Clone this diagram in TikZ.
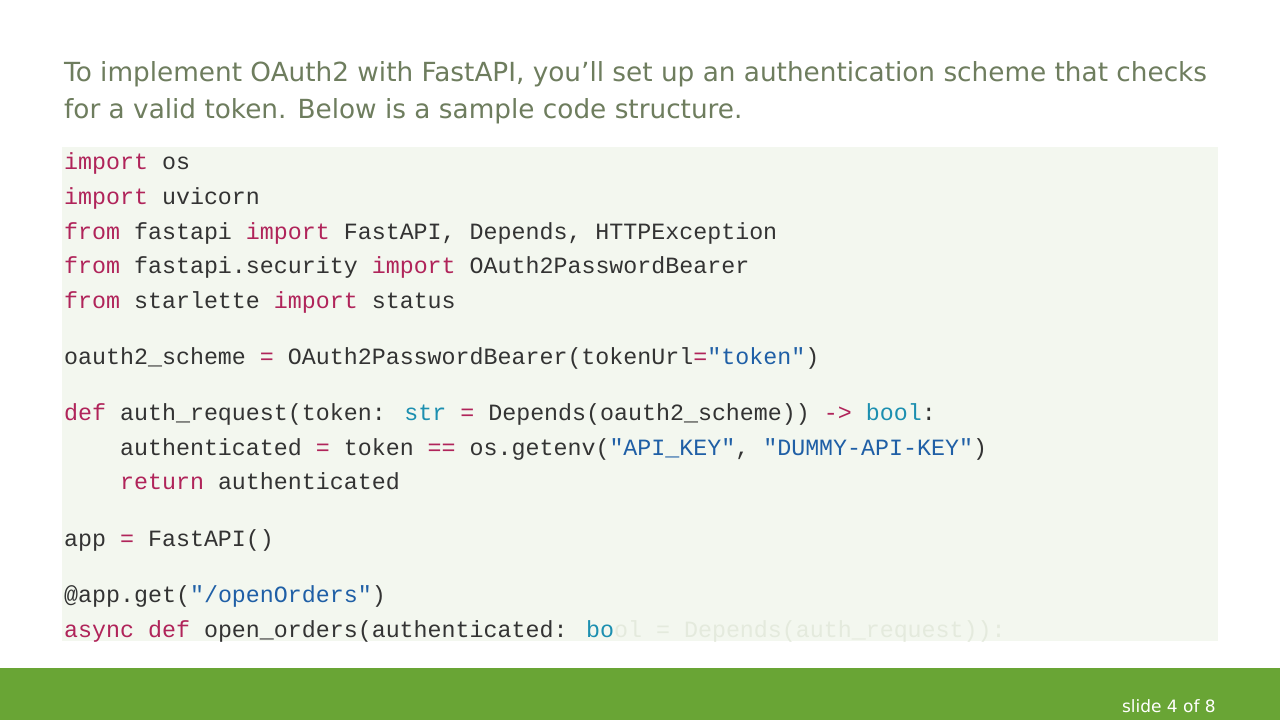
\documentclass[tikz,border=0pt]{standalone}
\usepackage{fontspec}
\setmainfont{DejaVu Sans}
\newfontfamily\codefont{Liberation Mono}
\definecolor{kwc}{HTML}{B0245A}
\definecolor{stc}{HTML}{1F5FA6}
\definecolor{tyc}{HTML}{1C8FB0}
\definecolor{txc}{HTML}{333333}
\definecolor{fadec}{HTML}{E4EADD}
\definecolor{headc}{HTML}{6E7D5E}
\definecolor{codebg}{HTML}{F3F7EF}
\definecolor{barc}{HTML}{69A535}
\newcommand{\kw}[1]{\textcolor{kwc}{#1}}
\newcommand{\st}[1]{\textcolor{stc}{#1}}
\newcommand{\ty}[1]{\textcolor{tyc}{#1}}
\begin{document}
\begin{tikzpicture}[x=1pt,y=-1pt,
  cl/.style={anchor=base west,inner sep=0pt,font=\codefont\fontsize{23.3}{28}\selectfont,text=txc},
  hd/.style={anchor=base west,inner sep=0pt,font=\fontsize{26.3}{30}\selectfont,text=headc}]
\useasboundingbox (0,0) rectangle (1280,720);
\fill[white] (0,0) rectangle (1280,720);
\fill[codebg] (62,147) rectangle (1218,641);
\fill[barc] (0,668) rectangle (1280,720);
\node[hd] (h1) at (64,81) {To implement OAuth2 with FastAPI, you'll set up an authentication scheme that checks};
\node[hd] (h2) at (64,118) {for a valid token. Below is a sample code structure.};
\node[cl] (c1) at (64,169) {\kw{import} os};
\node[cl] (c2) at (64,204) {\kw{import} uvicorn};
\node[cl] (c3) at (64,239) {\kw{from} fastapi \kw{import} FastAPI, Depends, HTTPException};
\node[cl] (c4) at (64,273) {\kw{from} fastapi.security \kw{import} OAuth2PasswordBearer};
\node[cl] (c5) at (64,308) {\kw{from} starlette \kw{import} status};
\node[cl] (c6) at (64,364) {oauth2\_scheme \kw{=} OAuth2PasswordBearer(tokenUrl\kw{=}\st{"token"})};
\node[cl] (c7) at (64,420) {\kw{def} auth\_request(token: \ty{str} \kw{=} Depends(oauth2\_scheme)) \kw{->} \ty{bool}:};
\node[cl] (c8) at (64,455) {\phantom{def }authenticated \kw{=} token \kw{==} os.getenv(\st{"API\_KEY"}, \st{"DUMMY-API-KEY"})};
\node[cl] (c9) at (64,489) {\phantom{def }\kw{return} authenticated};
\node[cl] (c10) at (64,546) {app \kw{=} FastAPI()};
\node[cl] (c11) at (64,602) {@app.get(\st{"/openOrders"})};
\node[cl] (c12) at (64,637) {\kw{async def} open\_orders(authenticated: \ty{bo}\textcolor{fadec}{ol = Depends(auth\_request)):}};
\node[anchor=base east,inner sep=0pt,font=\fontsize{17}{20}\selectfont,text=white] (sl) at (1216,712) {slide 4 of 8};
\end{tikzpicture}
\end{document}
